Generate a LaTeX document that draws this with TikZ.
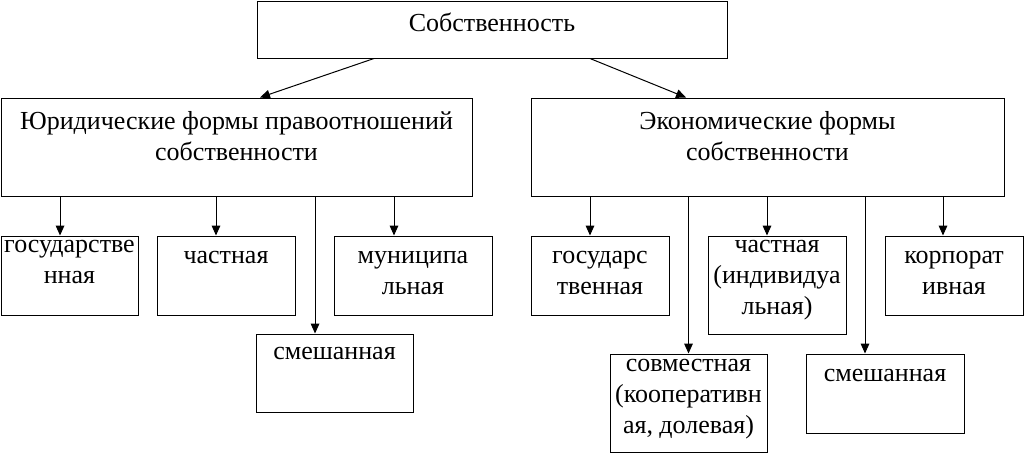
\documentclass[tikz,border=0pt]{standalone}
\usepackage{fontspec}
\setmainfont{Liberation Serif}
\usetikzlibrary{arrows.meta}
\tikzset{every picture/.style={line width=0.75pt}}
\tikzset{
  box/.style={draw, inner sep=0pt},
  arr/.style={-{Triangle[length=7.5pt,width=6.5pt]}},
  txt/.style={anchor=north, align=center, inner sep=0pt, font=\fontsize{19.5}{23.3}\selectfont}
}

\begin{document}
\begin{tikzpicture}[x=0.75pt,y=0.75pt,yscale=-1,xscale=1]
\useasboundingbox (0,0) rectangle (1024,454);

% top level
\node[box, minimum width=352.5pt, minimum height=42.75pt,
  label={[txt, yshift=-9pt]north:Собственность}] (own) at (492,29.5) {};

% second level
\node[box, minimum width=353.25pt, minimum height=73.5pt,
  label={[txt, yshift=-9.75pt]north:Юридические формы правоотношений\\собственности}] (jur) at (236.5,147) {};
\node[box, minimum width=354.75pt, minimum height=73.5pt,
  label={[txt, yshift=-9.75pt]north:Экономические формы\\собственности}] (eco) at (767.5,147) {};

% legal forms
\node[box, minimum width=102.75pt, minimum height=59.25pt,
  label={[txt, yshift=-3pt]north:государстве\\нная}] (jgos) at (69.5,275.5) {};
\node[box, minimum width=103.5pt, minimum height=59.25pt,
  label={[txt, yshift=-11.25pt]north:частная}] (jcha) at (226,275.5) {};
\node[box, minimum width=118.5pt, minimum height=59.25pt,
  label={[txt, yshift=-11.25pt]north:муниципа\\льная}] (jmun) at (413,275.5) {};
\node[box, minimum width=117.75pt, minimum height=58.5pt,
  label={[txt, yshift=-9.75pt]north:смешанная}] (jsme) at (334.5,373) {};

% economic forms
\node[box, minimum width=103.5pt, minimum height=59.25pt,
  label={[txt, yshift=-11.25pt]north:государс\\твенная}] (egos) at (600,275.5) {};
\node[box, minimum width=103.5pt, minimum height=73.5pt,
  label={[txt, yshift=-3pt]north:частная\\(индивидуа\\льная)}] (echa) at (777,285) {};
\node[box, minimum width=103.5pt, minimum height=59.25pt,
  label={[txt, yshift=-11.25pt]north:корпорат\\ивная}] (ekor) at (954,275.5) {};
\node[box, minimum width=117.75pt, minimum height=73.5pt,
  label={[txt, yshift=-3.75pt]north:совместная\\(кооперативн\\ая, долевая)}] (esov) at (688.5,403) {};
\node[box, minimum width=118.5pt, minimum height=59.25pt,
  label={[txt, yshift=-11.25pt]north:смешанная}] (esme) at (885,393.5) {};

% arrows
\draw[arr] ([xshift=-88.5pt]own.south) -- ([xshift=17.6pt]jur.north);
\draw[arr] ([xshift=73.5pt]own.south) -- ([xshift=-61.1pt]eco.north);
\foreach \n/\s in {jgos/-7.1,jcha/-7.5,jmun/-14.25,jsme/-14.6}
  \draw[arr] ([xshift=\s pt]\n.north |- jur.south) -- ([xshift=\s pt]\n.north);
\foreach \n/\s in {egos/-7.5,echa/-7.5,ekor/-8.25,esov/0,esme/-15}
  \draw[arr] ([xshift=\s pt]\n.north |- eco.south) -- ([xshift=\s pt]\n.north);

\end{tikzpicture}
\end{document}
